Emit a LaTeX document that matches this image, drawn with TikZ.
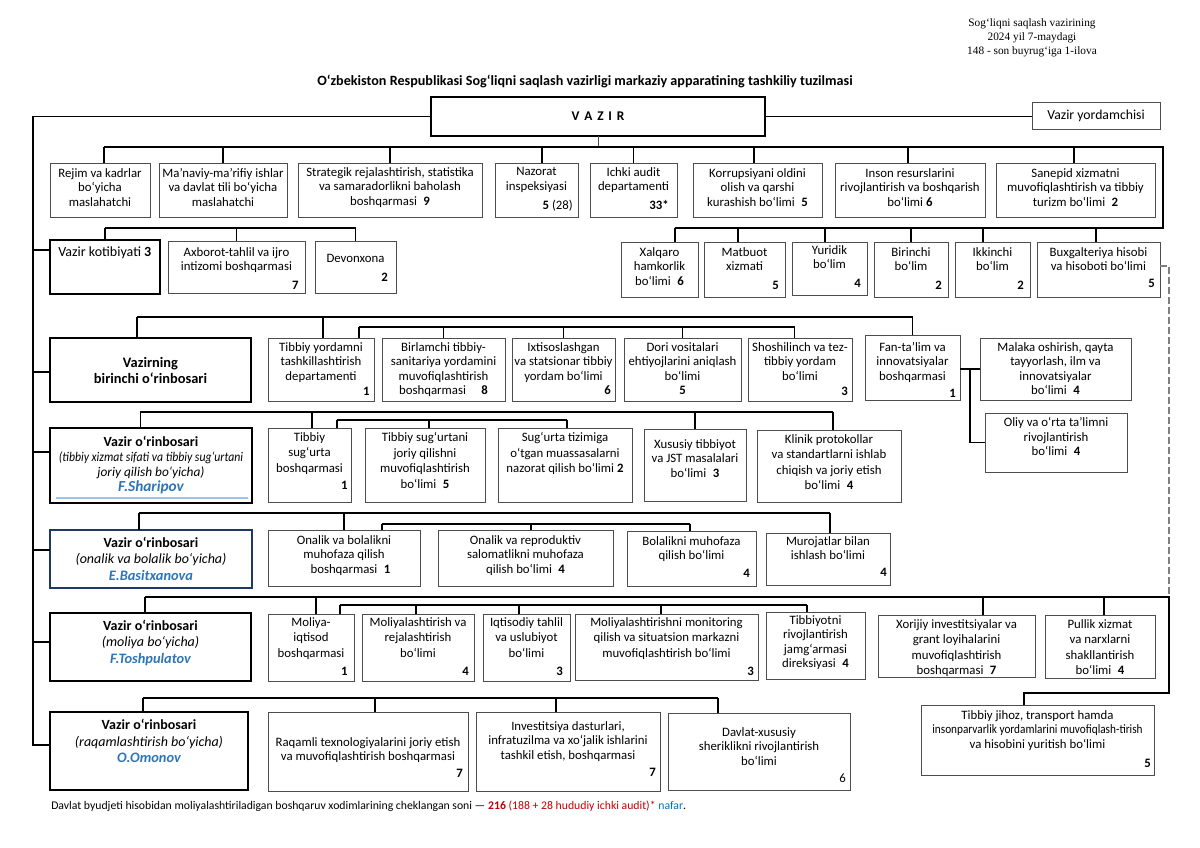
\documentclass[tikz,border=0pt]{standalone}
\usepackage{fontspec}
\setmainfont{Carlito}
\newfontfamily\condf[FakeStretch=0.88]{Carlito}
\newfontfamily\timesf{Liberation Serif}
\usetikzlibrary{calc}
\definecolor{bordgray}{HTML}{4D4D4D}
\definecolor{nameblue}{HTML}{2E75B6}
\definecolor{navyb}{HTML}{1F3864}
\definecolor{fred}{HTML}{C00000}
\definecolor{fblue}{HTML}{0070C0}
\definecolor{lineblue}{HTML}{9DC3E6}
\definecolor{dashgray}{HTML}{7F7F7F}
\newcommand\bodyfont{\fontsize{9.6}{10.9}\selectfont}
\newcommand\fontB{\fontsize{9.6}{11.7}\selectfont}
\tikzset{
 box/.style={draw=bordgray, line width=0.7pt, inner sep=0pt, outer sep=0pt, fill=white},
 boldbox/.style={draw=black, line width=2pt},
 navybox/.style={draw=navyb, line width=1.8pt},
 txt/.style={anchor=north, align=center, inner sep=0pt, font=\bodyfont},
 txtB/.style={font=\fontB},
 num/.style={anchor=base east, inner sep=0pt, font=\bodyfont\bfseries},
 conn/.style={draw=black, line width=1.2pt},
 dashline/.style={draw=dashgray, line width=1pt, dash pattern=on 5pt off 2.5pt},
}
\newcommand\bx[6][]{%
  \pgfmathsetmacro\bxw{(#5-#3)*0.75}%
  \pgfmathsetmacro\bxh{(#6-#4)*0.75}%
  \node[box,#1,minimum width=\bxw pt,minimum height=\bxh pt,anchor=north west] (#2) at (#3,#4) {};}
\newcommand\tx[4][]{\node[txt,#1] (#2-t) at ([shift={(0,#3)}]#2.north) {#4};}
\newcommand\nm[5][]{\node[num,#1] (#2-n) at ([shift={(-#3,-#4)}]#2.south east) {#5};}
\newcommand\drp[4][0pt]{\path ([xshift=#1]#2.north) coordinate (#4); \draw[conn] (#4) -- (#4 |- #3);}
\begin{document}
\begin{tikzpicture}[x=0.75pt,y=-0.75pt]
\fill[white] (0,0) rectangle (1200,847);
\useasboundingbox (0,0) rectangle (1200,847);

% header and title
\node[anchor=north, align=center, inner sep=0pt, font=\timesf\fontsize{8.5}{10.5}\selectfont] (hdr) at (1032,18) {Sog‘liqni saqlash vazirining\\2024 yil 7-maydagi\\148 - son buyrug‘iga 1-ilova};
\node[inner sep=0pt, font=\bfseries\fontsize{10.6}{12}\selectfont] (title) at (585,81) {O‘zbekiston Respublikasi Sog‘liqni saqlash vazirligi markaziy apparatining tashkiliy tuzilmasi};

% top
\bx[boldbox]{vazir}{431}{97}{765}{136}
\node[inner sep=0pt, font=\bfseries\fontsize{10}{12}\selectfont] (vazir-t) at (vazir.center) {V\hspace{0.36em}A\hspace{0.36em}Z\hspace{0.36em}I\hspace{0.36em}R};
\bx{vy}{1032}{102}{1160}{129}
\node[inner sep=0pt, font=\fontsize{10.3}{12}\selectfont] (vy-t) at (vy.center) {Vazir yordamchisi};

% row 1
\bx{r1a}{50}{163}{150}{217}
\tx{r1a}{5}{Rejim va kadrlar\\bo‘yicha\\maslahatchi}
\bx{r1b}{159}{163}{287}{217}
\tx{r1b}{5}{Ma’naviy-ma’rifiy ishlar\\va davlat tili bo‘yicha\\maslahatchi}
\bx{r1c}{298}{163}{482}{217}
\tx{r1c}{4}{Strategik rejalashtirish, statistika\\va samaradorlikni baholash\\boshqarmasi\enspace\textbf{9}}
\bx{r1d}{495}{163}{578}{217}
\tx{r1d}{4}{Nazorat\\inspeksiyasi}
\nm[font=\bodyfont]{r1d}{5}{8}{\textbf{5} (28)}
\bx{r1e}{590}{163}{677}{217}
\tx{r1e}{4}{Ichki audit\\departamenti}
\nm{r1e}{8}{8}{33*}
\bx{r1f}{693}{163}{822}{217}
\tx{r1f}{5}{Korrupsiyani oldini\\olish va qarshi\\kurashish bo‘limi\enspace\textbf{5}}
\bx{r1g}{835}{163}{985}{217}
\tx{r1g}{5}{Inson resurslarini\\rivojlantirish va boshqarish\\bo‘limi \textbf{6}}
\bx{r1h}{996}{163}{1155}{217}
\tx{r1h}{5}{Sanepid xizmatni\\muvofiqlashtirish va tibbiy\\turizm bo‘limi\enspace\textbf{2}}

% row 2
\bx[boldbox]{kot}{50}{240}{160}{294}
\node[anchor=north west, inner sep=0pt, font=\fontsize{10.5}{12}\selectfont] (kot-t) at ([shift={(8,7)}]kot.north west) {Vazir kotibiyati \textbf{3}};
\bx{axb}{168}{241}{305}{293}
\tx{axb}{6}{Axborot-tahlil va ijro\\intizomi boshqarmasi}
\nm{axb}{6}{4}{7}
\bx{dev}{315}{241}{396}{293}
\tx{dev}{13}{Devonxona}
\nm{dev}{8}{12}{2}
\bx{xal}{621}{242}{698}{297}
\tx{xal}{5}{Xalqaro\\hamkorlik\\bo‘limi\enspace\textbf{6}}
\bx{mat}{704}{242}{785}{297}
\tx{mat}{5}{Matbuot\\xizmati}
\nm{mat}{6}{8}{5}
\bx{yur}{792}{242}{867}{295}
\tx{yur}{3}{Yuridik\\bo‘lim}
\nm{yur}{6}{8}{4}
\bx{bir}{874}{242}{948}{297}
\tx{bir}{5}{Birinchi\\bo‘lim}
\nm{bir}{6}{8}{2}
\bx{ikk}{955}{242}{1030}{297}
\tx{ikk}{5}{Ikkinchi\\bo‘lim}
\nm{ikk}{6}{8}{2}
\bx{bux}{1037}{242}{1160}{297}
\tx{bux}{5}{Buxgalteriya hisobi\\va hisoboti bo‘limi}
\nm{bux}{5}{10}{5}

% row 3
\bx[boldbox]{dep1}{50}{338}{251}{402}
\node[align=center, inner sep=0pt, font=\bfseries\fontsize{10.8}{12}\selectfont] (dep1-t) at (dep1.center) {Vazirning\\birinchi o‘rinbosari};
\bx{tyd}{268}{338}{374}{401}
\tx{tyd}{4}{Tibbiy yordamni\\tashkillashtirish\\departamenti}
\nm{tyd}{4}{6}{1}
\bx{bir2}{382}{338}{505}{401}
\tx{bir2}{4}{Birlamchi tibbiy-\\sanitariya yordamini\\muvofiqlashtirish\\boshqarmasi\hspace{1.2em}\textbf{8}}
\bx{ixt}{512}{338}{615}{401}
\tx{ixt}{4}{Ixtisoslashgan\\va statsionar tibbiy\\yordam bo‘limi}
\nm{ixt}{4}{7}{6}
\bx{dori}{624}{338}{741}{401}
\tx{dori}{4}{Dori vositalari\\ehtiyojlarini aniqlash\\bo‘limi\\\textbf{5}}
\bx{shosh}{748}{338}{852}{401}
\tx{shosh}{4}{Shoshilinch va tez-\\tibbiy yordam\\bo‘limi}
\nm{shosh}{4}{6}{3}
\bx{fan}{865}{335}{960}{400}
\tx{fan}{7}{Fan-ta’lim va\\innovatsiyalar\\boshqarmasi}
\nm{fan}{4}{3}{1}
\bx{mal}{980}{338}{1131}{400}
\tx{mal}{4}{Malaka oshirish, qayta\\tayyorlash, ilm va\\innovatsiyalar\\bo‘limi\enspace\textbf{4}}
\bx{oliy}{985}{413}{1127}{472}
\tx{oliy}{4}{Oliy va o‘rta ta’limni\\rivojlantirish\\bo‘limi\enspace\textbf{4}}

% row 4
\bx[boldbox]{dep2}{50}{428}{252}{503}
\node[txt, font=\fontsize{10}{11.3}\selectfont] (dep2-t) at ([shift={(0,7.5)}]dep2.north) {{\bfseries\fontsize{10.5}{11.3}\selectfont Vazir o‘rinbosari}\\{\condf\itshape (tibbiy xizmat sifati va tibbiy sug‘urtani}\\{\itshape joriy qilish bo‘yicha)}\\\textcolor{nameblue}{\bfseries\itshape\fontsize{11.5}{11.3}\selectfont F.Sharipov}};
\draw[lineblue, line width=0.8pt] ([shift={(6,-5)}]dep2.south west) -- ([shift={(-4,-5)}]dep2.south east);
\bx{tsu}{268}{428}{351}{502}
\tx[txtB]{tsu}{4}{Tibbiy\\sug‘urta\\boshqarmasi}
\nm{tsu}{3}{13}{1}
\bx{tsj}{365}{428}{485}{502}
\tx[txtB]{tsj}{4}{Tibbiy sug‘urtani\\joriy qilishni\\muvofiqlashtirish\\bo‘limi\enspace\textbf{5}}
\bx{sti}{498}{428}{632}{502}
\tx[txtB]{sti}{4}{Sug‘urta tizimiga\\o‘tgan muassasalarni\\nazorat qilish bo‘limi \textbf{2}}
\bx{xus}{644}{429}{746}{501}
\tx{xus}{10}{Xususiy tibbiyot\\va JST masalalari\\bo‘limi\enspace\textbf{3}}
\bx{kli}{757}{430}{901}{502}
\tx[txtB]{kli}{4}{Klinik protokollar\\va standartlarni ishlab\\chiqish va joriy etish\\bo‘limi\enspace\textbf{4}}

% row 5
\bx[navybox]{dep3}{50}{530}{252}{588}
\node[txt, font=\fontsize{10.5}{12.6}\selectfont] (dep3-t) at ([shift={(0,6.5)}]dep3.north) {{\bfseries Vazir o‘rinbosari}\\{\itshape (onalik va bolalik bo‘yicha)}\\\textcolor{nameblue}{\bfseries\itshape\fontsize{10.8}{12.6}\selectfont E.Basitxanova}};
\bx{obm}{268}{530}{420}{586}
\tx{obm}{5}{Onalik va bolalikni\\muhofaza qilish\\\hspace{1em}boshqarmasi\enspace\textbf{1}}
\bx{orp}{438}{530}{613}{586}
\tx{orp}{5}{Onalik va reproduktiv\\salomatlikni muhofaza\\qilish bo‘limi\enspace\textbf{4}}
\bx{bol}{627}{531}{756}{586}
\tx{bol}{5}{Bolalikni muhofaza\\qilish bo‘limi}
\nm{bol}{6}{9}{4}
\bx{mur}{766}{533}{890}{585}
\tx{mur}{3}{Murojatlar bilan\\ishlash bo‘limi}
\nm{mur}{3}{9}{4}

% row 6
\bx[boldbox]{dep4}{50}{613}{251}{681}
\node[txt, font=\fontsize{10.5}{12.4}\selectfont] (dep4-t) at ([shift={(0,6.5)}]dep4.north) {{\bfseries Vazir o‘rinbosari}\\{\itshape (moliya bo‘yicha)}\\\textcolor{nameblue}{\bfseries\itshape\fontsize{10.8}{12.4}\selectfont F.Toshpulatov}};
\bx{mol}{268}{614}{354}{681}
\tx[txtB]{mol}{3}{Moliya-\\iqtisod\\boshqarmasi}
\nm{mol}{6}{6}{1}
\bx{mrj}{362}{614}{474}{681}
\tx[txtB]{mrj}{3}{Moliyalashtirish va\\rejalashtirish\\bo‘limi}
\nm{mrj}{5}{6}{4}
\bx{iqt}{483}{614}{570}{681}
\tx[txtB]{iqt}{3}{Iqtisodiy tahlil\\va uslubiyot\\bo‘limi}
\nm{iqt}{7}{6}{3}
\bx{mon}{575}{614}{758}{680}
\tx[txtB]{mon}{3}{Moliyalashtirishni monitoring\\qilish va situatsion markazni\\muvofiqlashtirish bo‘limi}
\nm{mon}{4}{5}{3}
\bx{tib}{766}{612}{865}{679}
\tx{tib}{3}{Tibbiyotni\\rivojlantirish\\jamg‘armasi\\direksiyasi\enspace\textbf{4}}
\bx{xor}{878}{615}{1035}{677}
\tx[txtB]{xor}{4}{Xorijiy investitsiyalar va\\grant loyihalarini\\muvofiqlashtirish\\boshqarmasi\enspace\textbf{7}}
\bx{pul}{1045}{615}{1155}{678}
\tx[txtB]{pul}{4}{Pullik xizmat\\va narxlarni\\shakllantirish\\bo‘limi\enspace\textbf{4}}

% row 7
\bx[boldbox]{dep5}{50}{712}{248}{790}
\node[txt, font=\fontsize{10.5}{12.7}\selectfont] (dep5-t) at ([shift={(0,6.5)}]dep5.north) {{\bfseries Vazir o‘rinbosari}\\{\itshape (raqamlashtirish bo‘yicha)}\\\textcolor{nameblue}{\bfseries\itshape\fontsize{10.8}{12.7}\selectfont O.Omonov}};
\bx{raq}{268}{712}{468}{791}
\tx{raq}{25}{Raqamli texnologiyalarini joriy etish\\va muvofiqlashtirish boshqarmasi}
\nm{raq}{5}{14}{7}
\bx{inv}{476}{712}{660}{791}
\tx{inv}{9}{Investitsiya dasturlari,\\infratuzilma va xo‘jalik ishlarini\\tashkil etish, boshqarmasi}
\nm{inv}{4}{15}{7}
\bx{dxs}{668}{713}{850}{790}
\tx{dxs}{14}{Davlat-xususiy\\sheriklikni rivojlantirish\\bo‘limi}
\nm[font=\bodyfont]{dxs}{4}{8}{6}
\bx{tjh}{921}{705}{1154}{775}
\tx{tjh}{5}{Tibbiy jihoz, transport hamda\\{\condf insonparvarlik yordamlarini muvofiqlash-tirish}\\va hisobini yuritish bo‘limi}
\nm{tjh}{3}{8}{5}

% footnote
\node[anchor=west, inner sep=0pt, font=\fontsize{8.8}{10}\selectfont] (foot) at (51,806) {Davlat byudjeti hisobidan moliyalashtiriladigan boshqaruv xodimlarining cheklangan soni — \textcolor{fred}{\textbf{216} (188 + 28 hududiy ichki audit)*} \textcolor{fblue}{nafar}.};

% ---------------- connectors ----------------
\coordinate (b1) at (0,147);
\coordinate (b2) at (0,228);
\coordinate (b3a) at (0,317);
\coordinate (b3b) at (0,327);
\coordinate (b4a) at (0,412);
\coordinate (b4b) at (0,420);
\coordinate (b5a) at (0,513);
\coordinate (b5b) at (0,524);
\coordinate (b6a) at (0,597);
\coordinate (b6b) at (0,605);
\coordinate (b7) at (0,698);
\coordinate (rt1) at (1163,147);
\coordinate (rt3) at (1169,597);
\coordinate (rt4) at (1169,693);
\coordinate (tend) at (33,745);

% left trunk
\draw[conn] (vazir.west) -| (tend) -- (tend -| dep5.west);
\foreach \yy/\nn in {250/kot,372/dep1,452/dep2,550/dep3,642/dep4}{
  \coordinate (tr-\nn) at (33,\yy);
  \draw[conn] (tr-\nn) -- (tr-\nn -| \nn.west);}

% vazir links
\draw[conn, line width=0.8pt] (vazir.east) -- (vazir.east -| vy.west);
\draw[bordgray, line width=0.6pt] (vazir.south) -- (vazir.south |- b1);

% row 1 + right row 2
\drp[3pt]{r1a}{b1}{d-r1a}
\drp{r1b}{b1}{d-r1b}
\drp{r1c}{b1}{d-r1c}
\drp[4pt]{r1d}{b1}{d-r1d}
\drp{r1e}{b1}{d-r1e}
\drp[-2.5pt]{r1f}{b1}{d-r1f}
\drp[-1.5pt]{r1g}{b1}{d-r1g}
\drp[-1pt]{r1h}{b1}{d-r1h}
\drp[11.6pt]{xal}{b2}{d-xal}
\drp[-5pt]{mat}{b2}{d-mat}
\drp[-3.4pt]{yur}{b2}{d-yur}
\drp{bir}{b2}{d-bir}
\drp[-7pt]{ikk}{b2}{d-ikk}
\drp[-2pt]{bux}{b2}{d-bux}
\draw[conn] (d-r1a |- b1) -- (rt1) -- (rt1 |- b2) -- (d-xal |- b2);

% row 2 left
\drp{kot}{b2}{d-kot}
\drp{axb}{b2}{d-axb}
\drp{dev}{b2}{d-dev}
\draw[conn] (d-kot |- b2) -- (d-dev |- b2);

% row 3
\drp[-10pt]{dep1}{b3a}{d-dep1}
\drp[1.5pt]{tyd}{b3a}{d-tyd}
\drp{fan}{b3a}{d-fan}
\draw[conn] (d-dep1 |- b3a) -- (d-fan |- b3a);
\drp[28.5pt]{tyd}{b3b}{d-tyd2}
\drp{bir2}{b3b}{d-bir2}
\drp{ixt}{b3b}{d-ixt}
\drp{dori}{b3b}{d-dori}
\drp[-4pt]{shosh}{b3b}{d-shosh}
\draw[conn] (d-tyd2 |- b3b) -- (d-shosh |- b3b);
\coordinate (fm) at (970,369);
\draw[conn] (fm -| fan.east) -- (fm -| mal.west);
\draw[conn] (fm) |- (oliy.west);

% row 4
\drp[-8pt]{dep2}{b4a}{d-dep2}
\drp[2pt]{tsu}{b4a}{d-tsu}
\drp{xus}{b4a}{d-xus}
\drp[3pt]{kli}{b4a}{d-kli}
\draw[conn] (d-dep2 |- b4a) -- (d-kli |- b4a);
\drp[20.6pt]{tsu}{b4b}{d-tsu2}
\drp[3pt]{tsj}{b4b}{d-tsj}
\drp[1.5pt]{sti}{b4b}{d-sti}
\draw[conn] (d-tsu2 |- b4b) -- (d-sti |- b4b);

% row 5
\drp[-9pt]{dep3}{b5a}{d-dep3}
\drp{obm}{b5a}{d-obm}
\drp[1.5pt]{mur}{b5a}{d-mur}
\draw[conn] (d-dep3 |- b5a) -- (d-mur |- b5a);
\drp[28.5pt]{obm}{b5b}{d-obm2}
\drp[4pt]{orp}{b5b}{d-orp}
\drp[-1pt]{bol}{b5b}{d-bol}
\draw[conn] (d-obm2 |- b5b) -- (d-bol |- b5b);

% row 6
\drp[-4pt]{dep4}{b6a}{d-dep4}
\drp[3.75pt]{mol}{b6a}{d-mol}
\drp[20pt]{xor}{b6a}{d-xor}
\drp[3pt]{pul}{b6a}{d-pul}
\path ([xshift=-10pt]tjh.north) coordinate (d-tjh);
\draw[conn] (d-dep4 |- b6a) -- (rt3) -- (rt4) -| (d-tjh);
\drp[21.75pt]{mol}{b6b}{d-mol2}
\drp[-1.5pt]{mrj}{b6b}{d-mrj}
\drp[-5.6pt]{iqt}{b6b}{d-iqt}
\drp[-4pt]{mon}{b6b}{d-mon}
\drp[-6.4pt]{tib}{b6b}{d-tib}
\draw[conn] (d-mol2 |- b6b) -- (d-tib |- b6b);

% row 7
\drp[-4.5pt]{dep5}{b7}{d-dep5}
\drp[5.25pt]{raq}{b7}{d-raq}
\drp[-9pt]{inv}{b7}{d-inv}
\drp[-30.75pt]{dxs}{b7}{d-dxs}
\draw[conn] (d-dep5 |- b7) -- (d-dxs |- b7);

% dashed link
\draw[dashline] ([yshift=2.6pt]bux.east) -| (rt3);
\end{tikzpicture}
\end{document}
